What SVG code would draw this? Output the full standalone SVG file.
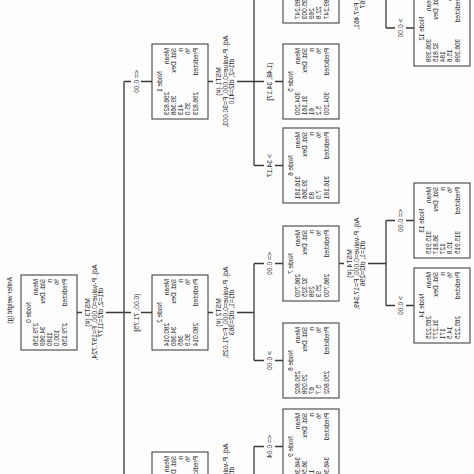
<svg xmlns="http://www.w3.org/2000/svg" width="474" height="474" viewBox="0 0 474 474">
<style>
.bg{fill:#fdfdfd}
.box{fill:#fdfdfd;stroke:#444;stroke-width:1.1}
.t{font-family:"Liberation Sans",Arial,sans-serif;font-size:6.4px;fill:#262626}
.v{text-anchor:end}
.c{text-anchor:middle}
.s{font-family:"Liberation Sans",Arial,sans-serif;font-size:6.8px;fill:#262626;text-anchor:middle}
.ln{stroke:#3a3a3a;stroke-width:1.3;fill:none}
</style>
<rect class="bg" x="0" y="0" width="474" height="474"/>
<g transform="matrix(0 1 1 0 0 0)">
<text class="t" x="277" y="12">Antler weight (g)</text>
<g id="connectors">
<path class="ln" d="M312.5 77V82M312.5 106V124M81.5 124H489.5M81.5 124V131M81.5 141V152M312.5 124V131M312.5 141V152M489.5 124V131M489.5 141V152
M81.5 208V213M81.5 237V254M-14.5 254H165.5M-14.5 254V264M-14.5 275V283M81.5 254V264M81.5 275V283M165.5 254V264M165.5 275V283
M312.5 208V213M312.5 237V254M263.5 254H360.5M263.5 254V264M263.5 275V283M360.5 254V264M360.5 275V283
M489.5 208V213M489.5 237V254M446.5 254H530M446.5 254V264M446.5 275V283
M-20 386H28M28 386V395M28 406V414
M263.5 339V344M263.5 368V386M220.5 386H305.5M220.5 386V395M220.5 406V414M305.5 386V395M305.5 406V414"/>
<text class="s" x="312.5" y="90">MST3 (#)</text>
<text class="s" x="312.5" y="96.5">Adj. P-value=0.000, F=197.724,</text>
<text class="s" x="312.5" y="103">df1=2, df2=1177</text>
<text class="s" x="81.5" y="221">MST1 (#)</text>
<text class="s" x="81.5" y="227.5">Adj. P-value=0.000, F=30.003,</text>
<text class="s" x="81.5" y="234">df1=2, df2=410</text>
<text class="s" x="312.5" y="221">MST2 (#)</text>
<text class="s" x="312.5" y="227.5">Adj. P-value=0.000, F=71.025,</text>
<text class="s" x="312.5" y="234">df1=1, df2=363</text>
<text class="s" x="489.5" y="227.5">Adj. P-value=0.000, F=45.512,</text>
<text class="s" x="489.5" y="234">df1=1, df2=400</text>
<text class="s" x="-14.5" y="352">MST5 (#)</text>
<text class="s" x="-14.5" y="358.5">Adj. P-value=0.000, F=7.461,</text>
<text class="s" x="-14.5" y="365">df1=1, df2=267</text>
<text class="s" x="263.5" y="352">MST4 (#)</text>
<text class="s" x="263.5" y="358.5">Adj. P-value=0.000, F=17.349,</text>
<text class="s" x="263.5" y="365">df1=1, df2=296</text>
<text class="s" x="81.5" y="138.5">&lt;= 0.00</text>
<text class="s" x="312.5" y="138.5">(0.00, 71.75]</text>
<text class="s" x="81.5" y="272">(1.48, 34.17]</text>
<text class="s" x="165.5" y="272">&gt; 34.17</text>
<text class="s" x="263.5" y="272">&lt;= 0.00</text>
<text class="s" x="360.5" y="272">&gt; 0.00</text>
<text class="s" x="446.5" y="272">&lt;= 0.04</text>
<text class="s" x="28" y="402.5">&gt; 0.00</text>
<text class="s" x="220.5" y="402.5">&lt;= 0.00</text>
<text class="s" x="305.5" y="402.5">&gt; 0.00</text>
</g>
<g id="node0" transform="translate(275 21)">
<rect class="box" width="75" height="56"/>
<text class="t c" x="37.5" y="10">Node 0</text>
<text class="t" x="4" y="17">Mean</text><text class="t v" x="71" y="17">279.156</text>
<text class="t" x="4" y="23.5">Std. Dev.</text><text class="t v" x="71" y="23.5">34.969</text>
<text class="t" x="4" y="30.5">n</text><text class="t v" x="71" y="30.5">1180</text>
<text class="t" x="4" y="37.5">%</text><text class="t v" x="71" y="37.5">100.0</text>
<text class="t" x="4" y="45.5">Predicted</text><text class="t v" x="71" y="45.5">279.156</text>
</g>
<g id="node1" transform="translate(44 152)">
<rect class="box" width="75" height="56"/>
<text class="t c" x="37.5" y="10">Node 1</text>
<text class="t" x="4" y="17">Mean</text><text class="t v" x="71" y="17">296.823</text>
<text class="t" x="4" y="23.5">Std. Dev.</text><text class="t v" x="71" y="23.5">39.368</text>
<text class="t" x="4" y="30.5">n</text><text class="t v" x="71" y="30.5">413</text>
<text class="t" x="4" y="37.5">%</text><text class="t v" x="71" y="37.5">35.0</text>
<text class="t" x="4" y="45.5">Predicted</text><text class="t v" x="71" y="45.5">296.823</text>
</g>
<g id="node2" transform="translate(275 152)">
<rect class="box" width="75" height="56"/>
<text class="t c" x="37.5" y="10">Node 2</text>
<text class="t" x="4" y="17">Mean</text><text class="t v" x="71" y="17">280.014</text>
<text class="t" x="4" y="23.5">Std. Dev.</text><text class="t v" x="71" y="23.5">34.360</text>
<text class="t" x="4" y="30.5">n</text><text class="t v" x="71" y="30.5">365</text>
<text class="t" x="4" y="37.5">%</text><text class="t v" x="71" y="37.5">30.9</text>
<text class="t" x="4" y="45.5">Predicted</text><text class="t v" x="71" y="45.5">280.014</text>
</g>
<g id="node3" transform="translate(452 152)">
<rect class="box" width="75" height="56"/>
<text class="t" x="4" y="17">Mean</text>
<text class="t" x="4" y="23.5">Std. Dev.</text>
<text class="t" x="4" y="30.5">n</text>
<text class="t" x="4" y="37.5">%</text>
<text class="t" x="4" y="45.5">Predicted</text>
</g>
<g id="node4" transform="translate(-52 283)">
<rect class="box" width="75" height="56"/>
<text class="t v" x="71" y="17">289.247</text>
<text class="t v" x="71" y="23.5">35.003</text>
<text class="t v" x="71" y="30.5">269</text>
<text class="t v" x="71" y="37.5">22.8</text>
<text class="t v" x="71" y="45.5">289.247</text>
</g>
<g id="node5" transform="translate(44 283)">
<rect class="box" width="75" height="56"/>
<text class="t c" x="37.5" y="10">Node 5</text>
<text class="t" x="4" y="17">Mean</text><text class="t v" x="71" y="17">304.200</text>
<text class="t" x="4" y="23.5">Std. Dev.</text><text class="t v" x="71" y="23.5">31.161</text>
<text class="t" x="4" y="30.5">n</text><text class="t v" x="71" y="30.5">61</text>
<text class="t" x="4" y="37.5">%</text><text class="t v" x="71" y="37.5">5.2</text>
<text class="t" x="4" y="45.5">Predicted</text><text class="t v" x="71" y="45.5">304.200</text>
</g>
<g id="node6" transform="translate(128 283)">
<rect class="box" width="75" height="56"/>
<text class="t c" x="37.5" y="10">Node 6</text>
<text class="t" x="4" y="17">Mean</text><text class="t v" x="71" y="17">316.181</text>
<text class="t" x="4" y="23.5">Std. Dev.</text><text class="t v" x="71" y="23.5">39.366</text>
<text class="t" x="4" y="30.5">n</text><text class="t v" x="71" y="30.5">83</text>
<text class="t" x="4" y="37.5">%</text><text class="t v" x="71" y="37.5">7.0</text>
<text class="t" x="4" y="45.5">Predicted</text><text class="t v" x="71" y="45.5">316.181</text>
</g>
<g id="node7" transform="translate(226 283)">
<rect class="box" width="75" height="56"/>
<text class="t c" x="37.5" y="10">Node 7</text>
<text class="t" x="4" y="17">Mean</text><text class="t v" x="71" y="17">286.700</text>
<text class="t" x="4" y="23.5">Std. Dev.</text><text class="t v" x="71" y="23.5">32.325</text>
<text class="t" x="4" y="30.5">n</text><text class="t v" x="71" y="30.5">298</text>
<text class="t" x="4" y="37.5">%</text><text class="t v" x="71" y="37.5">25.3</text>
<text class="t" x="4" y="45.5">Predicted</text><text class="t v" x="71" y="45.5">286.700</text>
</g>
<g id="node8" transform="translate(323 283)">
<rect class="box" width="75" height="56"/>
<text class="t c" x="37.5" y="10">Node 8</text>
<text class="t" x="4" y="17">Mean</text><text class="t v" x="71" y="17">250.802</text>
<text class="t" x="4" y="23.5">Std. Dev.</text><text class="t v" x="71" y="23.5">29.098</text>
<text class="t" x="4" y="30.5">n</text><text class="t v" x="71" y="30.5">67</text>
<text class="t" x="4" y="37.5">%</text><text class="t v" x="71" y="37.5">5.7</text>
<text class="t" x="4" y="45.5">Predicted</text><text class="t v" x="71" y="45.5">250.802</text>
</g>
<g id="node9" transform="translate(409 283)">
<rect class="box" width="75" height="56"/>
<text class="t c" x="37.5" y="10">Node 9</text>
<text class="t" x="4" y="17">Mean</text><text class="t v" x="71" y="17">346.304</text>
<text class="t" x="4" y="23.5">Std. Dev.</text><text class="t v" x="71" y="23.5">36.504</text>
<text class="t" x="4" y="30.5">n</text><text class="t v" x="71" y="30.5">115</text>
<text class="t" x="4" y="37.5">%</text><text class="t v" x="71" y="37.5">9.7</text>
<text class="t" x="4" y="45.5">Predicted</text><text class="t v" x="71" y="45.5">346.304</text>
</g>
<g id="node12" transform="translate(-9 414)">
<rect class="box" width="75" height="56"/>
<text class="t c" x="37.5" y="10">Node 12</text>
<text class="t" x="4" y="17">Mean</text><text class="t v" x="71" y="17">306.398</text>
<text class="t" x="4" y="23.5">Std. Dev.</text><text class="t v" x="71" y="23.5">32.815</text>
<text class="t" x="4" y="30.5">n</text><text class="t v" x="71" y="30.5">184</text>
<text class="t" x="4" y="37.5">%</text><text class="t v" x="71" y="37.5">15.6</text>
<text class="t" x="4" y="45.5">Predicted</text><text class="t v" x="71" y="45.5">306.398</text>
</g>
<g id="node13" transform="translate(183 414)">
<rect class="box" width="75" height="56"/>
<text class="t c" x="37.5" y="10">Node 13</text>
<text class="t" x="4" y="17">Mean</text><text class="t v" x="71" y="17">315.915</text>
<text class="t" x="4" y="23.5">Std. Dev.</text><text class="t v" x="71" y="23.5">36.817</text>
<text class="t" x="4" y="30.5">n</text><text class="t v" x="71" y="30.5">127</text>
<text class="t" x="4" y="37.5">%</text><text class="t v" x="71" y="37.5">10.8</text>
<text class="t" x="4" y="45.5">Predicted</text><text class="t v" x="71" y="45.5">315.915</text>
</g>
<g id="node14" transform="translate(268 414)">
<rect class="box" width="75" height="56"/>
<text class="t c" x="37.5" y="10">Node 14</text>
<text class="t" x="4" y="17">Mean</text><text class="t v" x="71" y="17">265.225</text>
<text class="t" x="4" y="23.5">Std. Dev.</text><text class="t v" x="71" y="23.5">31.277</text>
<text class="t" x="4" y="30.5">n</text><text class="t v" x="71" y="30.5">171</text>
<text class="t" x="4" y="37.5">%</text><text class="t v" x="71" y="37.5">14.5</text>
<text class="t" x="4" y="45.5">Predicted</text><text class="t v" x="71" y="45.5">265.225</text>
</g>
</g>
</svg>
